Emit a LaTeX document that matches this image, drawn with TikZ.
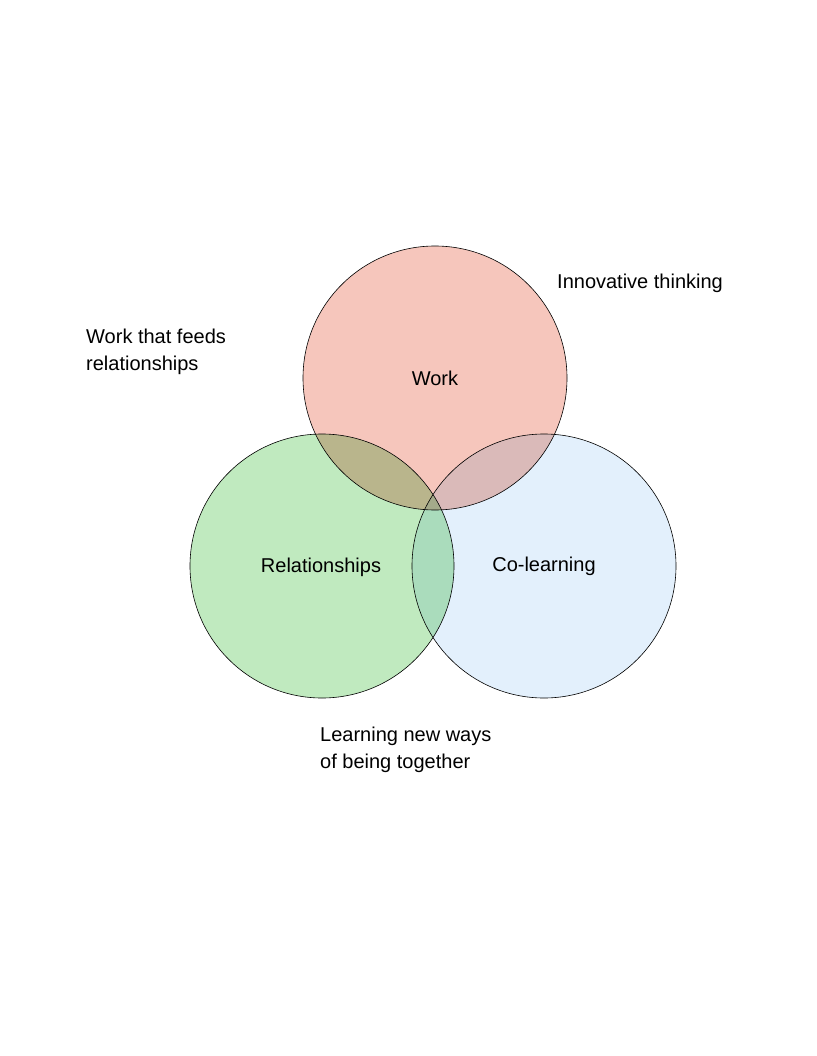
\documentclass[tikz,border=0pt]{standalone}
\usepackage{fontspec}
\setmainfont{Liberation Sans}
\begin{document}
\begin{tikzpicture}[x=1pt,y=-1pt,
  lbl/.style={font=\fontsize{20}{27}\selectfont, inner sep=0pt},
  side/.style={lbl, anchor=north west, align=left},
  venn/.style={draw=black, line width=0.6pt}]
\useasboundingbox (0,0) rectangle (816,1056);
\begin{scope}[blend group=multiply]
\fill[fill={rgb,255:red,246;green,198;blue,188}] (435,378) circle (132);
\fill[fill={rgb,255:red,192;green,234;blue,191}] (322,566) circle (132);
\fill[fill={rgb,255:red,227;green,240;blue,252}] (544,566) circle (132);
\end{scope}
\draw[venn] (435,378) circle (132);
\draw[venn] (322,566) circle (132);
\draw[venn] (544,566) circle (132);
\node[lbl] (w) at (435,378) {Work};
\node[lbl] (r) at (321,567) {Relationships};
\node[lbl] (c) at (544,566) {Co-learning};
\node[side] (i) at (557,274) {Innovative thinking};
\node[side] (f) at (86,329) {Work that feeds\\relationships};
\node[side] (l) at (320,727) {Learning new ways\\of being together};
\end{tikzpicture}
\end{document}
